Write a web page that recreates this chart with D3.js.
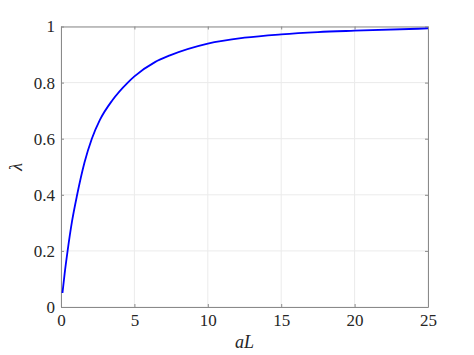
<!DOCTYPE html>
<html>
<head>
<meta charset="utf-8">
<script src="https://cdn.jsdelivr.net/npm/d3@7"></script>
<style>
  body { margin: 0; background: #fff; }
</style>
</head>
<body>
<svg width="474" height="355"></svg>
<script>
// values
const aL     = [0.1, 0.25, 0.45, 0.75, 1.1, 1.6, 2.1, 2.65, 3.5, 4.55, 5, 6.4, 7.42, 10, 12.5, 15, 17.5, 20, 25];
const lambda = [0.05, 0.12, 0.2, 0.305, 0.4, 0.515, 0.6, 0.667, 0.737, 0.8, 0.822, 0.873, 0.897, 0.939, 0.96, 0.972, 0.98, 0.985, 0.993];
const xTicks = [0, 5, 10, 15, 20, 25];
const yTicks = [0, 0.2, 0.4, 0.6, 0.8, 1];

const serif = "'Liberation Serif', 'Times New Roman', Times, serif";

const svg = d3.select("svg");
const margin = {top: 26.5, right: 46, bottom: 48, left: 61};
const width  = svg.attr("width") - margin.left - margin.right;
const height = svg.attr("height") - margin.top - margin.bottom;

const g = svg.append("g").attr("transform", "translate(" + margin.left + "," + margin.top + ")");

const x = d3.scaleLinear().domain([0, 25]).range([0, width]);
const y = d3.scaleLinear().domain([0, 1]).range([height, 0]);

// grid
g.append("g").selectAll("line").data(xTicks).join("line")
  .attr("x1", d => x(d)).attr("x2", d => x(d))
  .attr("y1", 0).attr("y2", height)
  .attr("stroke", "#ebebeb");
g.append("g").selectAll("line").data(yTicks).join("line")
  .attr("x1", 0).attr("x2", width)
  .attr("y1", d => y(d)).attr("y2", d => y(d))
  .attr("stroke", "#ebebeb");

// axes, ticks pointing inward, box on all sides
const styleAxis = function(sel) {
  sel.attr("font-family", serif).attr("font-size", 17);
  sel.select(".domain").attr("stroke", "#8a8a8a");
  sel.selectAll(".tick line").attr("stroke", "#8a8a8a");
  sel.selectAll(".tick text").attr("fill", "#262626");
};

g.append("g")
  .attr("transform", "translate(0," + height + ")")
  .call(d3.axisBottom(x).tickValues(xTicks).tickFormat(d3.format("d")).tickSize(-3).tickSizeOuter(0).tickPadding(7))
  .call(styleAxis);

g.append("g")
  .call(d3.axisLeft(y).tickValues(yTicks).tickFormat(d => d === 0 || d === 1 ? d : d.toFixed(1)).tickSize(-3).tickSizeOuter(0).tickPadding(6))
  .call(styleAxis);

g.append("g")
  .call(d3.axisTop(x).tickValues(xTicks).tickFormat("").tickSize(-3).tickSizeOuter(0))
  .call(styleAxis);

g.append("g")
  .attr("transform", "translate(" + width + ",0)")
  .call(d3.axisRight(y).tickValues(yTicks).tickFormat("").tickSize(-3).tickSizeOuter(0))
  .call(styleAxis);

// axis labels
g.append("text")
  .attr("x", width / 2)
  .attr("y", height + 41)
  .attr("text-anchor", "middle")
  .attr("font-family", serif)
  .attr("font-size", 18)
  .attr("font-style", "italic")
  .attr("fill", "#262626")
  .text("aL");

g.append("text")
  .attr("transform", "translate(-39," + (height / 2) + ") rotate(-90)")
  .attr("text-anchor", "middle")
  .attr("font-family", serif)
  .attr("font-size", 18)
  .attr("font-style", "italic")
  .attr("fill", "#262626")
  .text("λ");

// curve
const line = d3.line()
  .x((d, i) => x(aL[i]))
  .y(d => y(d))
  .curve(d3.curveMonotoneX);

g.append("path")
  .datum(lambda)
  .attr("fill", "none")
  .attr("stroke", "#0000ff")
  .attr("stroke-width", 1.8)
  .attr("stroke-linejoin", "round")
  .attr("d", line);
</script>
</body>
</html>
